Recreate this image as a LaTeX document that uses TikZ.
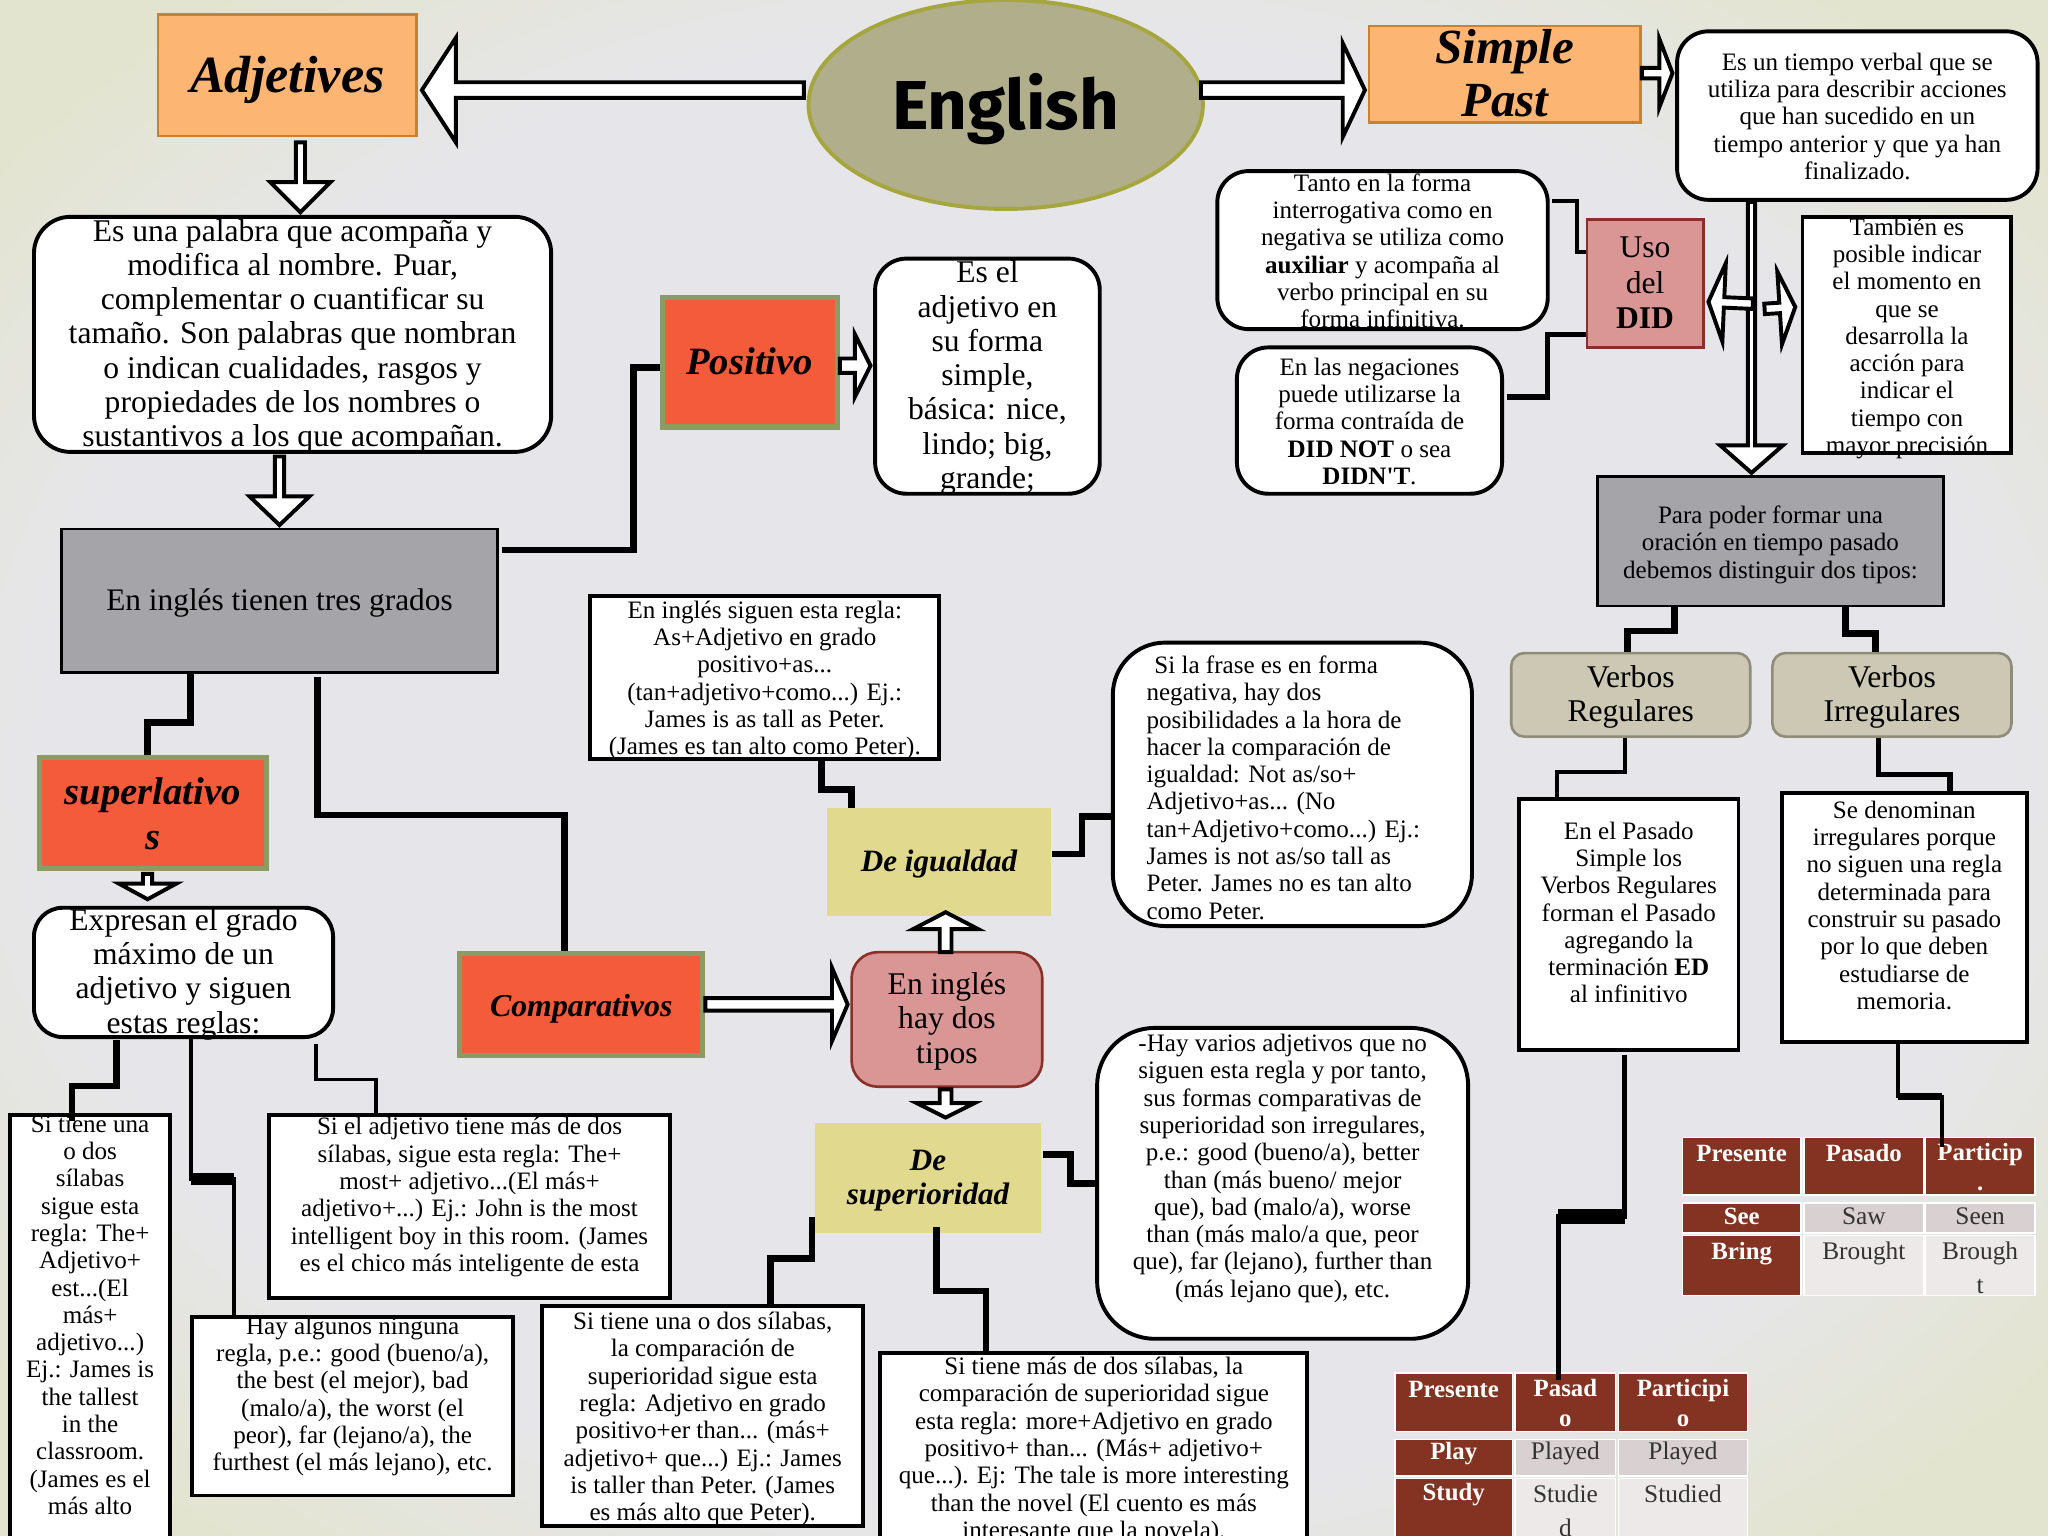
\documentclass[tikz,border=0pt]{standalone}
\usepackage{fontspec}
\setmainfont{Liberation Serif}[Ligatures=TeXOff]
\newfontfamily\titlefont{Fira Sans}
\usetikzlibrary{calc,shapes.geometric}

\definecolor{bgmid}{HTML}{E6E6EA}
\definecolor{bgedge}{HTML}{E3E4CF}
\definecolor{orangebox}{HTML}{FDB574}
\definecolor{orangeline}{HTML}{C9802F}
\definecolor{redbox}{HTML}{F45B3B}
\definecolor{redline}{HTML}{8C9A64}
\definecolor{greybox}{HTML}{A5A4A8}
\definecolor{yellowbox}{HTML}{E0D98E}
\definecolor{pinkbox}{HTML}{D99694}
\definecolor{pinkline}{HTML}{8A3028}
\definecolor{sandbox}{HTML}{CCC8B3}
\definecolor{sandline}{HTML}{8F8C79}
\definecolor{olivebox}{HTML}{B1AE8C}
\definecolor{oliveline}{HTML}{A6A63E}
\definecolor{headcell}{HTML}{843221}
\definecolor{bodycella}{HTML}{D9D1D1}
\definecolor{bodycellb}{HTML}{EDE9E9}

\pgfdeclareradialshading{bgfade}{\pgfpointorigin}{color(0bp)=(bgmid); color(24bp)=(bgmid); color(32bp)=(bgedge); color(50bp)=(bgedge)}

\newcommand{\boxtext}[2][0pt]{\raisebox{\dimexpr#1-4pt\relax}[0pt][0pt]{\makebox[0pt]{\begin{tabular}{@{}c@{}}#2\end{tabular}}}}
\newcommand{\boxtextl}[2][0pt]{\raisebox{\dimexpr#1-4pt\relax}[0pt][0pt]{\makebox[0pt]{\kern-7pt\begin{tabular}{@{}l@{}}#2\end{tabular}}}}
\newcommand{\blockarrow}[5]{
  \coordinate (from) at #1;
  \coordinate (to) at #2;
  \coordinate (base) at ($(to)!#5!(from)$);
  \filldraw[blockline] ($(from)!#3!90:(to)$) -- ($(base)!#3!90:(to)$) -- ($(base)!#4!90:(to)$) -- (to)
    -- ($(base)!#4!-90:(to)$) -- ($(base)!#3!-90:(to)$) -- ($(from)!#3!-90:(to)$) -- cycle;
}

\begin{document}
\begin{tikzpicture}[x=0.5pt, y=-0.5pt]
  \tikzstyle{box}=[draw=black, line width=1.5pt, fill=white, inner sep=0pt, text=black]
  \tikzstyle{round}=[box, rounded corners=12pt]
  \tikzstyle{bigtext}=[font=\fontsize{12.1}{13.1}\selectfont]
  \tikzstyle{smalltext}=[font=\fontsize{9.6}{10.45}\selectfont]
  \tikzstyle{heading}=[inner sep=0pt, text=black]
  \tikzstyle{orange}=[heading, draw=orangeline, line width=1pt, fill=orangebox]
  \tikzstyle{red}=[heading, draw=redline, line width=2pt, fill=redbox, font=\fontsize{14.8}{17}\selectfont\bfseries\itshape]
  \tikzstyle{grey}=[box, line width=1pt, fill=greybox]
  \tikzstyle{yellow}=[heading, fill=yellowbox, font=\fontsize{11.9}{13.1}\selectfont\bfseries\itshape]
  \tikzstyle{sand}=[heading, draw=sandline, line width=1pt, fill=sandbox, rounded corners=5pt, bigtext]
  \tikzstyle{headcell}=[inner sep=0pt, draw=white, line width=0.6pt, fill=headcell, text=white, font=\fontsize{9.5}{11.5}\selectfont\bfseries]
  \tikzstyle{lightcell}=[inner sep=0pt, draw=white, line width=0.6pt, fill=bodycella, text=black!80, font=\fontsize{9.7}{13}\selectfont]
  \tikzstyle{palecell}=[lightcell, fill=bodycellb]
  \tikzstyle{blockline}=[draw=black, line width=1.5pt, fill=white]
  \tikzstyle{link}=[draw=black, line width=2.5pt]
  \tikzstyle{thinlink}=[draw=black, line width=1.5pt]
  \tikzstyle{blob}=[draw=black, line width=4.5pt]

  \shade[shading=bgfade] (0,0) rectangle (1568,1176);
  \useasboundingbox (0,0) rectangle (1568,1176);
  \clip (0,0) rectangle (1568,1176);

  \node[ellipse, draw=oliveline, line width=1.5pt, fill=olivebox, minimum width=151pt, minimum height=80pt, inner sep=0pt, font=\titlefont\fontsize{26.5}{30}\selectfont\bfseries] (english) at (770, 80) {\boxtext[-5.5pt]{English}};
  \node[orange, minimum width=99pt, minimum height=46.5pt, font=\fontsize{20}{22}\selectfont\bfseries\itshape] (adjetives) at (220, 57.5) {\boxtext[-3.5pt]{Adjetives}};
  \node[orange, minimum width=104pt, minimum height=37pt, font=\fontsize{18.8}{20.5}\selectfont\bfseries\itshape] (past) at (1152, 57) {\boxtext[-2.25pt]{Simple\\Past}};

  \node[round, rounded corners=14pt, bigtext, minimum width=198pt, minimum height=90pt] (adjdef) at (224, 256) {\boxtext{Es una palabra que acompaña y\\modifica al nombre. Puar,\\complementar o cuantificar su\\tamaño. Son palabras que nombran\\o indican cualidades, rasgos y\\propiedades de los nombres o\\sustantivos a los que acompañan.}};
  \node[red, minimum width=67pt, minimum height=49.5pt] (positivo) at (574, 277.5) {\boxtext[-1pt]{Positivo}};
  \node[round, bigtext, minimum width=86pt, minimum height=90pt] (posdef) at (756, 288) {\boxtext{Es el\\adjetivo en\\su forma\\simple,\\básica: nice,\\lindo; big,\\grande;}};
  \node[grey, font=\fontsize{12}{13.1}\selectfont, minimum width=167pt, minimum height=55pt] (grados) at (214, 460) {\boxtext{En inglés tienen tres grados}};

  \node[box, smalltext, minimum width=133.5pt, minimum height=62.5pt] (igualrule) at (585.5, 518.5) {\boxtext{En inglés siguen esta regla:\\As+Adjetivo en grado\\positivo+as...\\(tan+adjetivo+como...) Ej.:\\James is as tall as Peter.\\(James es tan alto como Peter).}};
  \node[yellow, minimum width=86pt, minimum height=41pt] (igualdad) at (719, 660) {\boxtext{De igualdad}};
  \node[round, rounded corners=20pt, smalltext, minimum width=137.5pt, minimum height=108.5pt] (igualdef) at (989.5, 600.5) {\boxtextl[-1pt]{\hspace{3pt}Si la frase es en forma\\negativa, hay dos\\posibilidades a la hora de\\hacer la comparación de\\igualdad: Not as/so+\\Adjetivo+as... (No\\tan+Adjetivo+como...) Ej.:\\James is not as/so tall as\\Peter. James no es tan alto\\como Peter.}};

  \node[red, minimum width=87pt, minimum height=42.5pt] (superl) at (117, 622.5) {\boxtext[-1.5pt]{superlativo\\s}};
  \node[round, rounded corners=11pt, bigtext, minimum width=114.5pt, minimum height=49.5pt] (superldef) at (140.5, 744.5) {\boxtext{Expresan el grado\\máximo de un\\adjetivo y siguen\\estas reglas:}};
  \node[red, font=\fontsize{12.2}{13.1}\selectfont\bfseries\itshape, minimum width=93pt, minimum height=39pt] (compar) at (445, 769) {\boxtext[-1pt]{Comparativos}};
  \node[box, line width=1pt, draw=pinkline, fill=pinkbox, rounded corners=10pt, bigtext, minimum width=73pt, minimum height=51.5pt] (tipos) at (725, 780.5) {\boxtext{En inglés\\hay dos\\tipos}};
  \node[yellow, minimum width=86.5pt, minimum height=42pt] (superior) at (710.5, 902) {\boxtext{De\\superioridad}};
  \node[round, rounded corners=22pt, smalltext, minimum width=142pt, minimum height=119pt] (supdef) at (982, 906) {\boxtext[7pt]{-Hay varios adjetivos que no\\siguen esta regla y por tanto,\\sus formas comparativas de\\superioridad son irregulares,\\p.e.: good (bueno/a), better\\than (más bueno/ mejor\\que), bad (malo/a), worse\\than (más malo/a que, peor\\que), far (lejano), further than\\(más lejano que), etc.}};

  \node[box, smalltext, minimum width=61pt, minimum height=168pt] (regla1) at (69, 1022) {\boxtext[8pt]{Si tiene una\\o dos\\sílabas\\sigue esta\\regla: The+\\Adjetivo+\\est...(El\\más+\\adjetivo...)\\Ej.: James is\\the tallest\\in the\\classroom.\\(James es el\\más alto}};
  \node[box, smalltext, minimum width=153.5pt, minimum height=70pt] (regla2) at (359.5, 924) {\boxtext[5pt]{Si el adjetivo tiene más de dos\\sílabas, sigue esta regla: The+\\most+ adjetivo...(El más+\\adjetivo+...) Ej.: John is the most\\intelligent boy in this room. (James\\es el chico más inteligente de esta}};
  \node[box, smalltext, minimum width=123pt, minimum height=68.5pt] (regla3) at (270, 1076.5) {\boxtext[5pt]{Hay algunos ninguna\\regla, p.e.: good (bueno/a),\\the best (el mejor), bad\\(malo/a), the worst (el\\peor), far (lejano/a), the\\furthest (el más lejano), etc.}};
  \node[box, smalltext, minimum width=123pt, minimum height=84pt] (supcorta) at (538, 1084) {\boxtext{Si tiene una o dos sílabas,\\la comparación de\\superioridad sigue esta\\regla: Adjetivo en grado\\positivo+er than... (más+\\adjetivo+ que...) Ej.: James\\is taller than Peter. (James\\es más alto que Peter).}};
  \node[box, smalltext, minimum width=163.5pt, minimum height=77pt] (suplarga) at (837.5, 1113) {\boxtext[2.5pt]{Si tiene más de dos sílabas, la\\comparación de superioridad sigue\\esta regla: more+Adjetivo en grado\\positivo+ than... (Más+ adjetivo+\\que...). Ej: The tale is more interesting\\than the novel (El cuento es más\\interesante que la novela).}};

  \node[round, smalltext, minimum width=138pt, minimum height=64.5pt] (pastdef) at (1422, 88.5) {\boxtext{Es un tiempo verbal que se\\utiliza para describir acciones\\que han sucedido en un\\tiempo anterior y que ya han\\finalizado.}};
  \node[round, smalltext, minimum width=126.5pt, minimum height=60.5pt] (interrog) at (1058.5, 191.5) {\boxtext{Tanto en la forma\\interrogativa como en\\negativa se utiliza como\\\textbf{auxiliar} y acompaña al\\verbo principal en su\\forma infinitiva.}};
  \node[round, smalltext, minimum width=101.5pt, minimum height=56pt] (negacion) at (1048.5, 322) {\boxtext{En las negaciones\\puede utilizarse la\\forma contraída de\\\textbf{DID NOT} o sea\\\textbf{DIDN'T}.}};
  \node[heading, draw=pinkline, line width=1pt, fill=pinkbox, font=\fontsize{12.1}{13.6}\selectfont, minimum width=44.5pt, minimum height=49pt] (uso) at (1259.5, 217) {\boxtext{Uso\\del\\\textbf{DID}}};
  \node[box, smalltext, minimum width=80pt, minimum height=90.5pt] (momento) at (1460, 256.5) {\boxtext{También es\\posible indicar\\el momento en\\que se\\desarrolla la\\acción para\\indicar el\\tiempo con\\mayor precisión}};
  \node[grey, smalltext, minimum width=132.5pt, minimum height=49.5pt] (tipospas) at (1355.5, 414.5) {\boxtext{Para poder formar una\\oración en tiempo pasado\\debemos distinguir dos tipos:}};
  \node[sand, minimum width=91.5pt, minimum height=32pt] (regulares) at (1248.5, 532) {\boxtext{Verbos\\Regulares}};
  \node[sand, minimum width=91.5pt, minimum height=32pt] (irregulares) at (1448.5, 532) {\boxtext{Verbos\\Irregulares}};
  \node[box, smalltext, minimum width=84pt, minimum height=96pt] (regdef) at (1247, 708) {\boxtext[5pt]{En el Pasado\\Simple los\\Verbos Regulares\\forman el Pasado\\agregando la\\terminación \textbf{ED}\\al infinitivo}};
  \node[box, smalltext, minimum width=94pt, minimum height=95.5pt] (irregdef) at (1458, 702.5) {\boxtext[5pt]{Se denominan\\irregulares porque\\no siguen una regla\\determinada para\\construir su pasado\\por lo que deben\\estudiarse de\\memoria.}};

  \node[headcell,  minimum width=45.5pt, minimum height=22pt]   (presente1) at (1333.5, 893)   {\boxtext[6pt]{Presente}};
  \node[headcell,  minimum width=46pt,   minimum height=22pt]   (pasado1)   at (1427,   893)   {\boxtext[6pt]{Pasado}};
  \node[headcell,  minimum width=42pt,   minimum height=22pt]   (partic1)   at (1516,   893)   {\boxtext[0.5pt]{Particip\\.}};
  \node[headcell,  minimum width=45.5pt, minimum height=11.5pt] (see)       at (1333.5, 932.5) {\boxtext[1.5pt]{See}};
  \node[lightcell, minimum width=46pt,   minimum height=11.5pt] (saw)       at (1427,   932.5) {\boxtext[1.5pt]{Saw}};
  \node[lightcell, minimum width=42pt,   minimum height=11.5pt] (seen)      at (1516,   932.5) {\boxtext[1.5pt]{Seen}};
  \node[headcell,  minimum width=45.5pt, minimum height=23pt]   (bring)     at (1333.5, 969)   {\boxtext[6.5pt]{Bring}};
  \node[palecell,  minimum width=46pt,   minimum height=23pt]   (brought)   at (1427,   969)   {\boxtext[6.5pt]{Brought}};
  \node[palecell,  minimum width=42pt,   minimum height=23pt]   (broughtp)  at (1516,   969)   {\boxtext{Brough\\t}};

  \node[headcell,  minimum width=45pt,   minimum height=22.5pt] (presente2) at (1113,   1073.5) {\boxtext[6pt]{Presente}};
  \node[headcell,  minimum width=38.5pt, minimum height=22.5pt] (pasado2)   at (1198.5, 1073.5) {\boxtext[0.5pt]{Pasad\\o}};
  \node[headcell,  minimum width=49.5pt, minimum height=22.5pt] (partic2)   at (1288.5, 1073.5) {\boxtext[0.5pt]{Participi\\o}};
  \node[headcell,  minimum width=45pt,   minimum height=14pt]   (play)      at (1113,   1116)   {\boxtext[3.5pt]{Play}};
  \node[lightcell, minimum width=38.5pt, minimum height=14pt]   (played)    at (1198.5, 1116)   {\boxtext[3.5pt]{Played}};
  \node[lightcell, minimum width=49.5pt, minimum height=14pt]   (playedp)   at (1288.5, 1116)   {\boxtext[3.5pt]{Played}};
  \node[headcell,  minimum width=45pt,   minimum height=29pt]   (study)     at (1113,   1161)   {\boxtext[10pt]{Study}};
  \node[palecell,  minimum width=38.5pt, minimum height=29pt]   (studied)   at (1198.5, 1161)   {\boxtext[2.75pt]{Studie\\d}};
  \node[palecell,  minimum width=49.5pt, minimum height=29pt]   (studiedp)  at (1288.5, 1161)   {\boxtext[9.5pt]{Studied}};

  \blockarrow{($(english.west)+(-2,-11)$)}{($(adjetives.east)+(3,11.5)$)}{3pt}{20pt}{13pt}
  \blockarrow{($(english.east)+(-3,-11)$)}{($(past.west)+(-2,12)$)}{3pt}{18pt}{8.5pt}
  \blockarrow{($(adjetives.south)+(10,4)$)}{($(adjdef.north)+(6,-2)$)}{1.75pt}{11.5pt}{11.5pt}
  \blockarrow{($(adjdef.south)+(-10,2)$)}{($(grados.north)+(0,-2)$)}{1.75pt}{11.5pt}{11pt}
  \blockarrow{($(positivo.east)+(0,2.5)$)}{($(posdef.west)+(-2,-8)$)}{2.75pt}{12pt}{6pt}
  \blockarrow{($(past.east)+(0,-1)$)}{($(pastdef.west)+(-2,-32.5)$)}{2pt}{13pt}{5pt}
  \blockarrow{($(pastdef.south)+(-81,0)$)}{($(tipospas.north)+(-14.5,-2)$)}{1.4pt}{12pt}{10.5pt}
  \blockarrow{($(pastdef.south)+(-80,78)$)}{($(uso.east)+(3,14)$)}{2pt}{15pt}{6pt}
  \blockarrow{($(pastdef.south)+(-71,82)$)}{($(momento.west)+(-4,-21.5)$)}{2pt}{14pt}{6pt}
  \blockarrow{($(superl.south)+(-4,2)$)}{($(superldef.north)+(-27.5,-5)$)}{1.75pt}{11pt}{6pt}
  \blockarrow{($(compar.east)+(0,0)$)}{($(tipos.west)+(-2,-11.5)$)}{2.4pt}{14pt}{6pt}
  \blockarrow{($(tipos.north)+(-1,1)$)}{($(igualdad.south)+(5,-3)$)}{2.25pt}{12.5pt}{6.5pt}
  \blockarrow{($(tipos.south)+(-1,1)$)}{($(superior.north)+(13.5,-4)$)}{2.25pt}{11pt}{5.5pt}

  \draw[link] ($(grados.east)+(2,-39)$) -- ++(101,0) |- ($(positivo.west)+(0,4)$);
  \draw[link] ($(grados.south)+(-68,0)$) -- ++(0,37) -| ($(superl.north)+(-4,0)$);
  \draw[link] ($(grados.south)+(29,2)$) -- ++(0,106) -| ($(compar.north)+(-13,0)$);
  \draw[link] ($(igualrule.south)+(43.5,0)$) -- ++(0,22) -| ($(igualdad.north)+(-67,0)$);
  \draw[link] ($(igualdad.east)+(0,-6)$) -- ++(23,0) |- ($(igualdef.west)+(0,24.5)$);
  \draw[link] ($(superior.east)+(1,-18)$) -- ++(21,0) |- (supdef.west);
  \draw[link] ($(superior.south west)+(-2,-13)$) -- ++(0,32) -| ($(supcorta.north)+(52,0)$);
  \draw[link] ($(superior.south)+(6.5,-5)$) -- ++(0,49) -| ($(suplarga.north)+(-82.5,0)$);
  \draw[link] ($(superldef.south)+(-51.5,1)$) -- ++(0,35) -| ($(regla1.north)+(-14,6)$);
  \draw[thinlink] ($(superldef.south)+(5.5,0)$) -- ++(0,107) -| ($(regla3.north)+(-91,0)$);
  \draw[blob] ($(superldef.south)+(5.5,107)$) -- ++(33,0);
  \draw[thinlink] ($(superldef.south)+(101.5,4)$) -- ++(0,27) -| ($(regla2.north)+(-71.5,0)$);
  \draw[thinlink] ($(interrog.east)+(2,-37.5)$) -- ++(19,0) |- ($(uso.west)+(0,-24)$);
  \draw[link, line width=2pt] ($(negacion.east)+(2,-18)$) -- ++(31,0) |- ($(uso.west)+(0,39)$);
  \draw[link] ($(tipospas.south)+(-73.5,0)$) -- ++(0,18) -| ($(regulares.north)+(-2.5,0)$);
  \draw[link] ($(tipospas.south)+(57.5,0)$) -- ++(0,20) -| ($(irregulares.north)+(-12.5,0)$);
  \draw[thinlink] ($(regulares.south)+(-4.5,0)$) -- ++(0,26) -| ($(regdef.north)+(-55,2)$);
  \draw[link, line width=2pt] ($(irregulares.south)+(-10.5,0)$) -- ++(0,28) -| ($(irregdef.north)+(35,0)$);
  \draw[link, line width=2pt] ($(regdef.south)+(-3,2)$) -- ++(0,124) -| ($(pasado2.north)+(-5.5,6)$);
  \draw[blob, line width=6pt] ($(regdef.south)+(-3,126)$) -- ++(-51,0);
  \draw[thinlink] ($(irregdef.south)+(-5,-3)$) -- ++(0,43) -| ($(partic1.north)+(-29,8)$);
  \draw[link] ($(irregdef.south)+(-5,40)$) -- ++(34,0);
\end{tikzpicture}
\end{document}
